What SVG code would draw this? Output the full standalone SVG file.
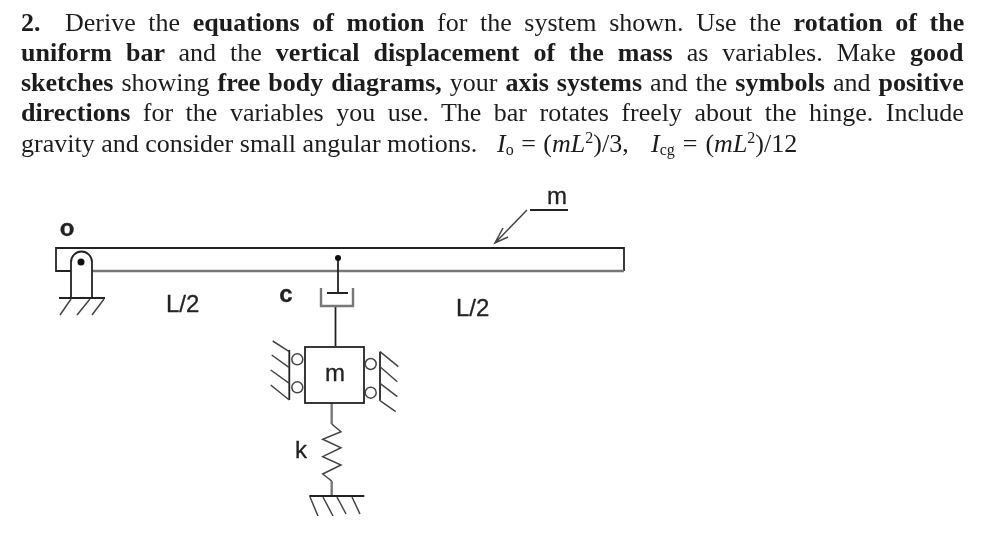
<svg xmlns="http://www.w3.org/2000/svg" width="995" height="551" viewBox="0 0 995 551">
<style>
.t{font-family:"Liberation Serif","Times New Roman",serif;font-size:26px;fill:#1c1c1c}
.b{font-weight:bold}
.i{font-style:italic}
.l{font-family:"Liberation Sans",Arial,sans-serif;font-size:24px;fill:#222;stroke:#222;stroke-width:.3}
.s{fill:none;stroke:#222;stroke-width:1.8}
.h{fill:none;stroke:#444;stroke-width:1.5}
.g{fill:none;stroke:#777;stroke-width:2.4}
</style>
<defs><filter id="soft" x="0" y="0" width="100%" height="100%"><feGaussianBlur stdDeviation="0.4"/></filter></defs>
<rect width="995" height="551" fill="#fff"/>
<g filter="url(#soft)">
<g id="problem-text">
<text class="t" x="21" y="31" word-spacing="6.100"><tspan class="b">2.</tspan><tspan x="65">Derive the </tspan><tspan class="b">equations of motion </tspan><tspan>for the system shown. Use the </tspan><tspan class="b">rotation of the</tspan></text>
<text class="t" x="21" y="61" word-spacing="7.500"><tspan class="b">uniform bar </tspan><tspan>and the </tspan><tspan class="b">vertical displacement of the mass </tspan><tspan>as variables. Make </tspan><tspan class="b">good</tspan></text>
<text class="t" x="21" y="91" word-spacing="1.500"><tspan class="b">sketches </tspan><tspan>showing </tspan><tspan class="b">free body diagrams, </tspan><tspan>your </tspan><tspan class="b">axis systems </tspan><tspan>and the </tspan><tspan class="b">symbols </tspan><tspan>and </tspan><tspan class="b">positive</tspan></text>
<text class="t" x="21" y="121" word-spacing="6"><tspan class="b">directions </tspan><tspan>for the variables you use. The bar rotates freely about the hinge. Include</tspan></text>
<text class="t" x="21" y="152">gravity and consider small angular motions.</text>
<text class="t" x="497" y="152" word-spacing="1"><tspan class="i">I</tspan><tspan font-size="16" dy="3">o</tspan><tspan dy="-3"> = (</tspan><tspan class="i">mL</tspan><tspan font-size="16" dy="-9">2</tspan><tspan dy="9">)/3,</tspan></text>
<text class="t" x="651" y="152" word-spacing="1.500"><tspan class="i">I</tspan><tspan font-size="16" dy="3">cg</tspan><tspan dy="-3"> = (</tspan><tspan class="i">mL</tspan><tspan font-size="16" dy="-9">2</tspan><tspan dy="9">)/12</tspan></text>
</g>
<g id="bar">
<path class="s" d="M71 271H56V248H624V271"/>
<path class="g" d="M92 271H624"/>
</g>
<g id="hinge">
<path class="s" d="M71 298V262A10.500 10.500 0 0 1 92 262V298"/>
<circle cx="81" cy="262" r="3.500" fill="#111"/>
<path class="s" d="M59 298H105"/>
<path class="h" d="M71 299L60 315M90 299L77 315M104 299L92 315"/>
<text class="l" x="67" y="236" text-anchor="middle" font-weight="bold" font-size="18">o</text>
</g>
<g id="connectors">
<path class="s" d="M338 258V293M327 293H348"/>
<path class="s" d="M335.500 306V346"/>
<path class="g" d="M321 288V306H353V288"/>
<path class="g" d="M331.700 403V424"/>
<path class="h" d="M331.700 424L341 431.700L322.700 439.300L341 447.700L322.700 456.700L341 465L322.700 474L331.700 481"/>
<path class="g" d="M331.700 481V495"/>
<path class="h" d="M527 210L495 243M503 228L495 243L508 237"/>
<path class="s" d="M530 210H568"/>
</g>
<g id="damper-pivot"><circle cx="338" cy="258" r="3" fill="#111"/></g>
<g id="mass">
<rect class="s" x="305" y="347" width="59" height="56"/>
<text class="l" x="335" y="381" text-anchor="middle" font-size="22">m</text>
</g>
<g id="left-guide">
<path class="s" d="M289.300 350V400"/>
<path class="h" d="M272.700 341L289.300 351.700M271.700 355L289.300 367.700M270.700 370L289.300 383.300M270.700 385L289.300 400"/>
<circle class="h" cx="297.300" cy="359.300" r="5.500"/>
<circle class="h" cx="297.300" cy="387.300" r="5.500"/>
</g>
<g id="right-guide">
<path class="s" d="M380 351.700V400.700"/>
<path class="h" d="M380 351.700L398.300 366.700M380 366.700L397.300 381.700M380 383.300L397.300 396.700M380 400.700L395.700 411.700"/>
<circle class="h" cx="370.700" cy="364" r="5.500"/>
<circle class="h" cx="370.700" cy="392.700" r="5.500"/>
</g>
<g id="ground">
<path class="s" d="M309.300 496H364.300"/>
<path class="h" d="M310 497L318 516M323 497L333 516M337 497L346 514M352 497L360 514"/>
</g>
<g id="labels">
<text class="l" x="166" y="312">L/2</text>
<text class="l" x="456" y="316">L/2</text>
<text class="l" x="286" y="302" text-anchor="middle" font-weight="bold" font-size="15">c</text>
<text class="l" x="301" y="458" text-anchor="middle">k</text>
<text class="l" x="557" y="204" text-anchor="middle" font-size="22">m</text>
</g>
</g>
</svg>
